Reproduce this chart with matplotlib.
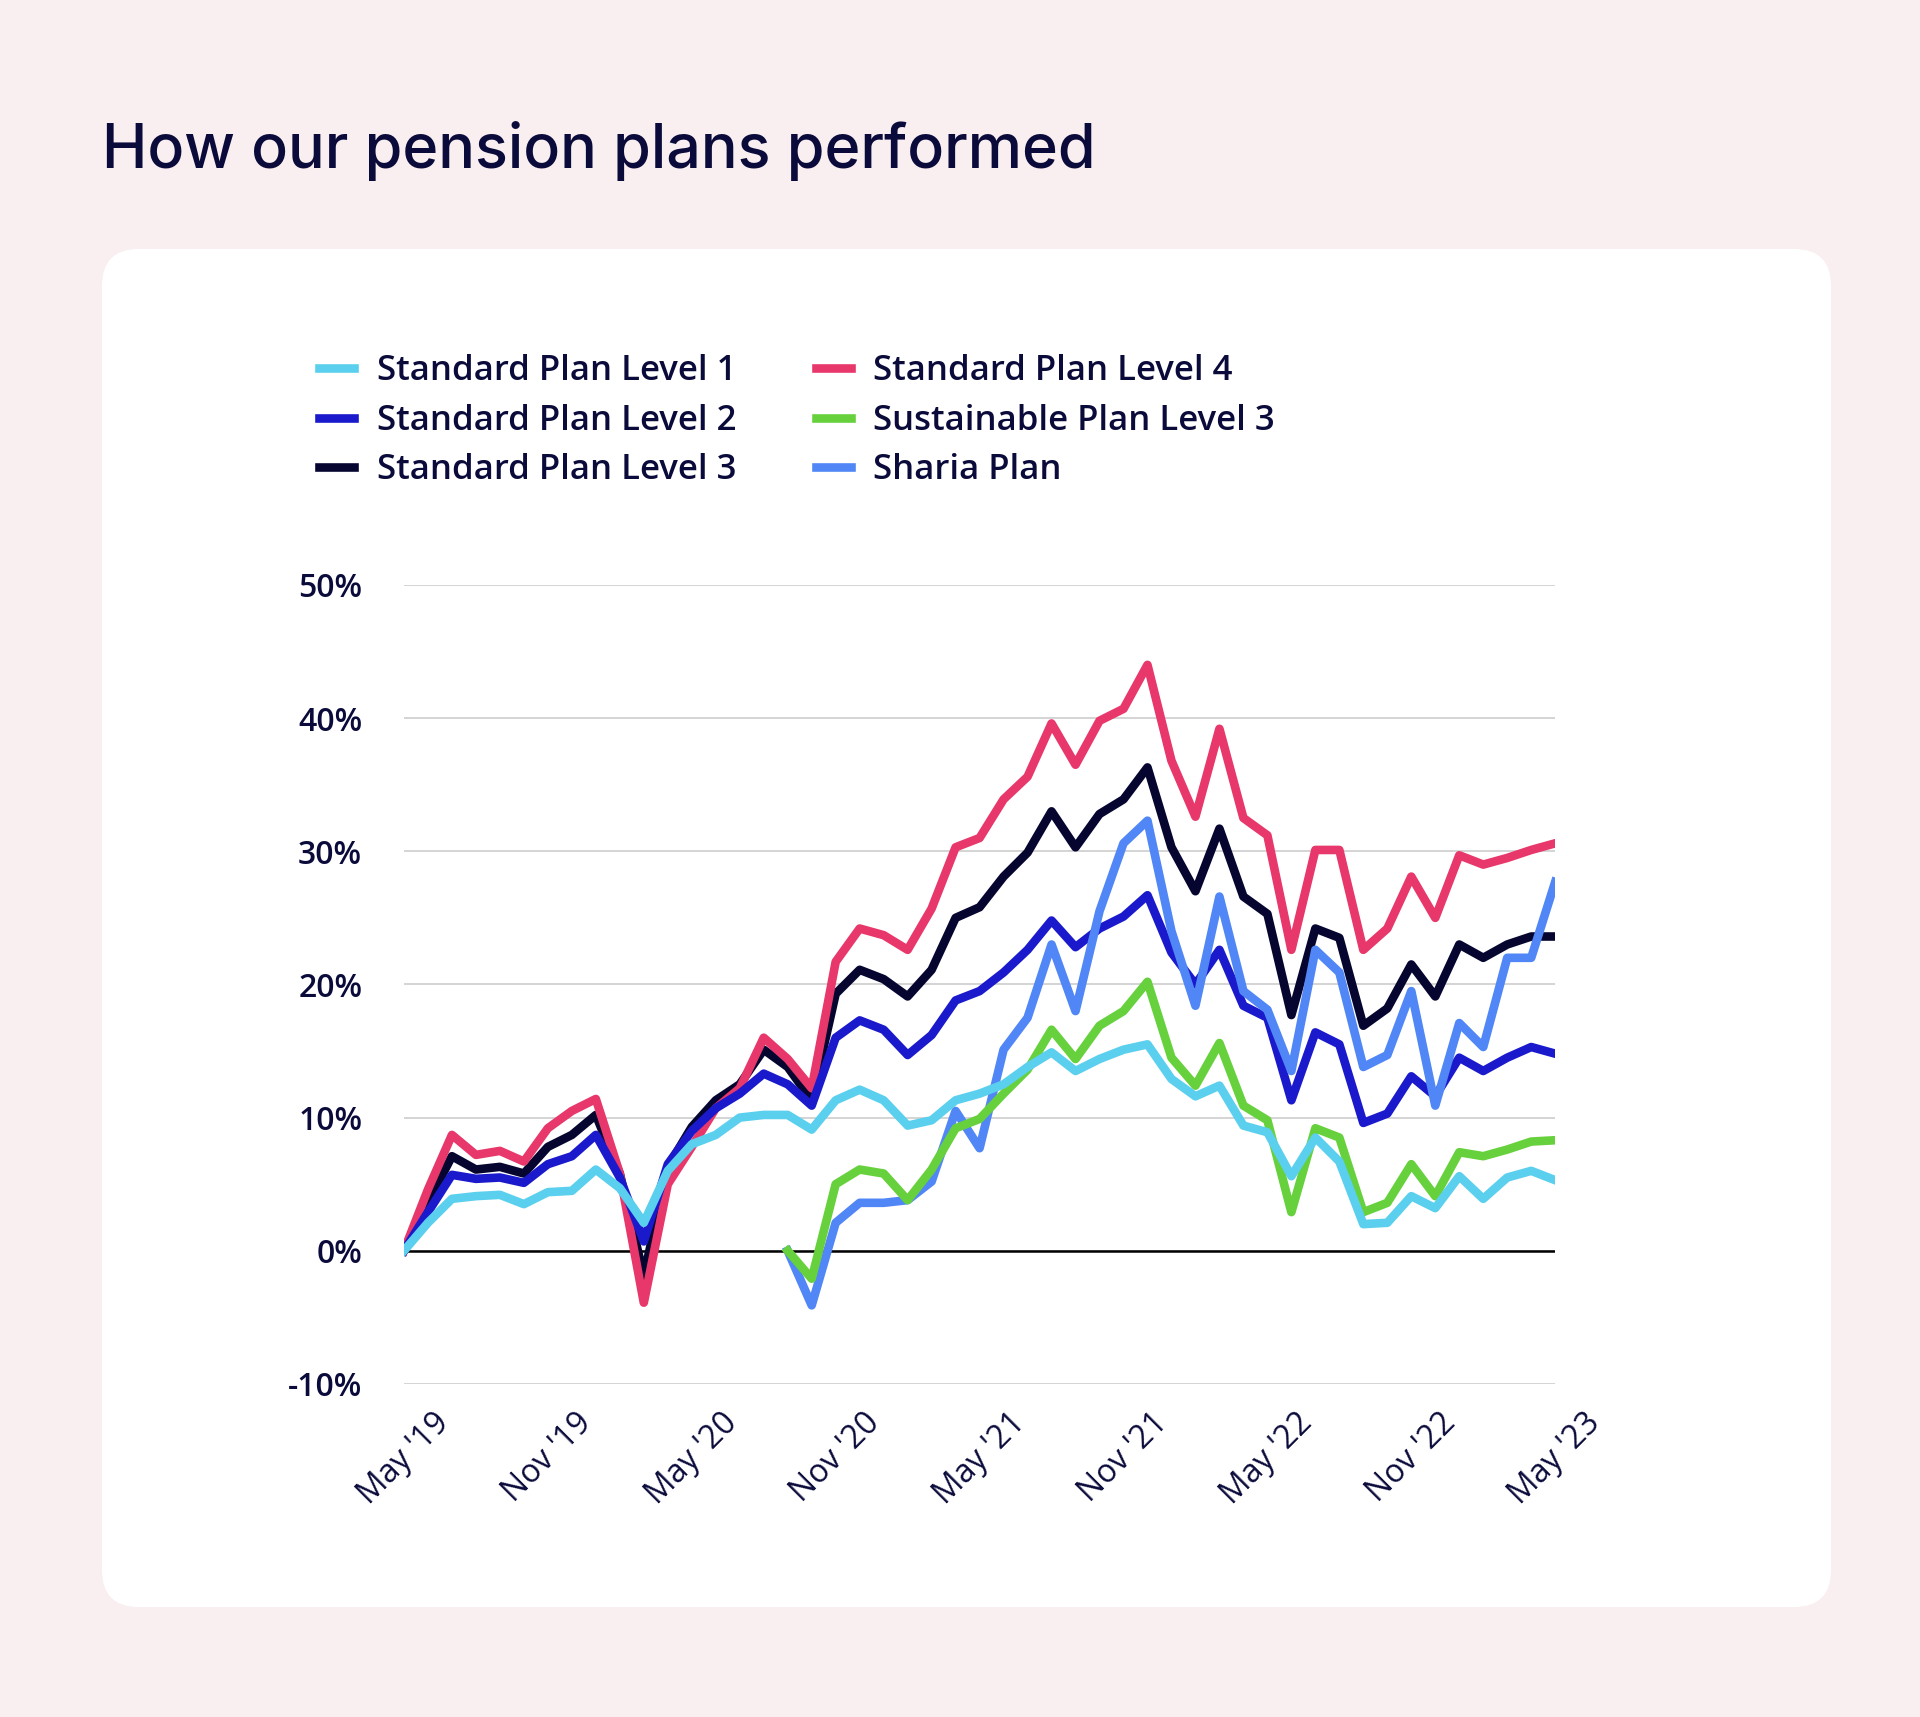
import numpy as np
import matplotlib
matplotlib.use("Agg")
from matplotlib import pyplot as plt
from matplotlib.patches import FancyBboxPatch

# monthly, May 2019 .. May 2023
months = list(range(49))
tick_pos = [0, 6, 12, 18, 24, 30, 36, 42, 48]
tick_labels = ["May '19", "Nov '19", "May '20", "Nov '20", "May '21",
               "Nov '21", "May '22", "Nov '22", "May '23"]

level1 = [0, 2.1, 3.9, 4.1, 4.2, 3.5, 4.4, 4.5, 6.1, 4.7, 2.1, 6.0, 8.0,
          8.7, 10.0, 10.2, 10.2, 9.1, 11.3, 12.1, 11.3, 9.4, 9.8, 11.3, 11.8,
          12.5, 13.8, 14.9, 13.5, 14.4, 15.1, 15.5, 12.9, 11.6, 12.4, 9.4, 8.9,
          5.6, 8.5, 6.7, 2.0, 2.1, 4.1, 3.2, 5.6, 3.9, 5.5, 6.0, 5.3]
level2 = [0, 2.9, 5.7, 5.4, 5.5, 5.1, 6.5, 7.1, 8.7, 5.5, 0.7, 6.5, 9.0,
          10.7, 11.8, 13.3, 12.5, 10.9, 16.0, 17.3, 16.6, 14.7, 16.2, 18.8, 19.5,
          20.9, 22.6, 24.8, 22.8, 24.2, 25.1, 26.7, 22.4, 20.0, 22.6, 18.4, 17.5,
          11.3, 16.4, 15.5, 9.6, 10.3, 13.1, 11.6, 14.5, 13.5, 14.5, 15.3, 14.8]
level3 = [0, 3.6, 7.1, 6.1, 6.3, 5.8, 7.8, 8.7, 10.2, 5.8, -1.9, 6.3, 9.3,
          11.3, 12.5, 15.1, 13.8, 11.3, 19.3, 21.1, 20.4, 19.1, 21.1, 25.0, 25.8,
          28.1, 29.9, 33.0, 30.3, 32.8, 33.9, 36.3, 30.3, 27.0, 31.7, 26.6, 25.3,
          17.7, 24.2, 23.5, 16.9, 18.2, 21.5, 19.1, 23.0, 22.0, 23.0, 23.6, 23.6]
level4 = [0, 4.6, 8.7, 7.2, 7.5, 6.7, 9.2, 10.5, 11.4, 5.8, -3.9, 5.0, 7.8,
          10.7, 12.2, 16.0, 14.4, 12.2, 21.7, 24.2, 23.7, 22.6, 25.7, 30.3, 31.0,
          33.9, 35.6, 39.6, 36.5, 39.8, 40.7, 44.0, 36.8, 32.6, 39.2, 32.5, 31.2,
          22.6, 30.1, 30.1, 22.6, 24.2, 28.1, 25.0, 29.7, 29.0, 29.5, 30.1, 30.6]
# the two newer plans start in Sep 2020
sustainable = [np.nan] * 16 + [
    0, -2.1, 5.0, 6.1, 5.8, 3.8, 6.1, 9.2, 9.9,
    11.8, 13.6, 16.6, 14.4, 16.9, 18.0, 20.2, 14.5, 12.4, 15.6, 10.9, 9.8,
    2.9, 9.2, 8.5, 2.9, 3.6, 6.5, 4.1, 7.4, 7.1, 7.6, 8.2, 8.3]
sharia = [np.nan] * 16 + [
    0, -4.1, 2.1, 3.6, 3.6, 3.8, 5.2, 10.5, 7.7,
    15.1, 17.5, 23.0, 18.0, 25.5, 30.6, 32.3, 24.0, 18.4, 26.6, 19.5, 18.1,
    13.5, 22.6, 20.9, 13.8, 14.7, 19.5, 10.9, 17.1, 15.3, 22.0, 22.0, 27.7]

navy = '#0b0b3b'
bg = '#f9eff0'

plt.rcParams['font.family'] = ['Open Sans', 'DejaVu Sans']

fig = plt.figure(figsize=(19.2, 17.17), dpi=100)
fig.patch.set_facecolor(bg)

card = FancyBboxPatch((1.02, 1.10), 17.29, 13.58,
                      boxstyle="round,pad=0,rounding_size=0.37",
                      transform=fig.dpi_scale_trans, facecolor='white',
                      edgecolor='none', zorder=-5)
fig.patches.append(card)

fig.text(0.0531, 0.902, 'How our pension plans performed', fontsize=44,
         color=navy, family=['Inter', 'DejaVu Sans'], weight='medium',
         va='baseline')

ax = fig.add_axes([0.2104, 0.194, 0.5996, 0.4653])
ax.set_facecolor('none')

lw = 6.2
l1, = ax.plot(months, level1, color='#5bcfee', lw=lw, zorder=8, label='Standard Plan Level 1')
l2, = ax.plot(months, level2, color='#1a1acc', lw=lw, zorder=5, label='Standard Plan Level 2')
l3, = ax.plot(months, level3, color='#050530', lw=lw, zorder=4, label='Standard Plan Level 3')
l4, = ax.plot(months, level4, color='#e8376a', lw=lw, zorder=4.5, label='Standard Plan Level 4')
ls, = ax.plot(months, sustainable, color='#66d13d', lw=lw, zorder=7, label='Sustainable Plan Level 3')
lsh, = ax.plot(months, sharia, color='#5086f5', lw=lw, zorder=6, label='Sharia Plan')

ax.axhline(0, color='black', lw=1.8, zorder=3)
ax.set_xlim(0, 48)
ax.set_ylim(-10, 50)
ax.set_yticks([-10, 0, 10, 20, 30, 40, 50])
ax.set_yticklabels(['-10%', '0%', '10%', '20%', '30%', '40%', '50%'])
ax.grid(axis='y', color='#d4d4d4', lw=1.4)
ax.set_axisbelow(True)
for s in ax.spines.values():
    s.set_visible(False)
ax.tick_params(length=0)
ax.tick_params(axis='y', pad=30, labelsize=23, labelcolor=navy)
for t in ax.get_yticklabels():
    t.set_fontweight('semibold')
ax.set_xticks(tick_pos)
ax.set_xticklabels(tick_labels, rotation=45, fontsize=23, color=navy)
ax.tick_params(axis='x', pad=16)

leg = fig.legend(handles=[l1, l2, l3, l4, ls, lsh], ncol=2, loc='upper left',
                 bbox_to_anchor=(0.150, 0.812), frameon=False,
                 prop={'size': 25, 'weight': 'semibold'},
                 handlelength=1.0, handletextpad=0.65, columnspacing=2.3,
                 labelspacing=0.45)
for t in leg.get_texts():
    t.set_color(navy)

fig.savefig('out.png', dpi=100, facecolor=bg)
